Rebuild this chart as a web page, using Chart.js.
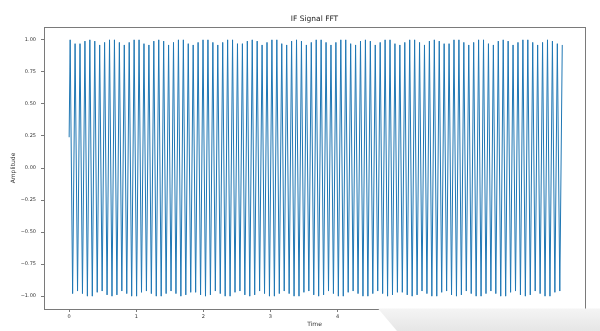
<!DOCTYPE html>
<html>
<head>
<meta charset="utf-8">
<title>IF Signal FFT</title>
<script src="https://cdn.jsdelivr.net/npm/chart.js@4.4.1/dist/chart.umd.min.js"></script>
<style>
  html, body { margin: 0; padding: 0; background: #fff; }
  canvas { display: block; }
</style>
</head>
<body>
<canvas id="ifChart" width="600" height="331"></canvas>
<script>
// signal: one value at t=0, then alternating crest / trough
const startAmplitude = 0.24;
const firstPeakTime = 0.015;
const halfPeriod = 0.03668; // time between a crest and the next trough

const peaks = [
  1.00, 0.97, 0.97, 0.99, 1.00, 0.99, 0.96, 0.98, 1.00, 1.00, 0.98, 0.96, 0.98, 1.00, 1.00, 0.97, 0.96, 0.99, 1.00, 0.99,
  0.96, 0.98, 1.00, 1.00, 0.97, 0.96, 0.98, 1.00, 1.00, 0.98, 0.96, 0.98, 1.00, 1.00, 0.97, 0.97, 0.99, 1.00, 0.99, 0.96,
  0.98, 1.00, 1.00, 0.97, 0.96, 0.99, 1.00, 0.99, 0.96, 0.98, 1.00, 1.00, 0.98, 0.96, 0.98, 1.00, 1.00, 0.97, 0.96, 0.99,
  1.00, 0.99, 0.96, 0.98, 1.00, 1.00, 0.97, 0.96, 0.98, 1.00, 1.00, 0.98, 0.96, 0.99, 1.00, 0.99, 0.97, 0.97, 1.00, 1.00,
  0.98, 0.96, 0.98, 1.00, 1.00, 0.97, 0.96, 0.99, 1.00, 0.99, 0.96, 0.98, 1.00, 1.00, 0.98, 0.96, 0.98, 1.00, 0.99, 0.97, 0.96
];

const troughs = [
  -0.98, -0.96, -0.98, -1.00, -1.00, -0.97, -0.96, -0.99, -1.00, -0.99, -0.96, -0.98, -1.00, -1.00, -0.97, -0.96, -0.98, -1.00, -1.00, -0.98,
  -0.96, -0.98, -1.00, -0.99, -0.97, -0.97, -0.99, -1.00, -0.99, -0.96, -0.98, -1.00, -1.00, -0.97, -0.96, -0.99, -1.00, -0.99, -0.96, -0.98,
  -1.00, -1.00, -0.98, -0.96, -0.98, -1.00, -1.00, -0.97, -0.96, -0.99, -1.00, -0.99, -0.96, -0.98, -1.00, -1.00, -0.97, -0.96, -0.98, -1.00,
  -1.00, -0.98, -0.96, -0.98, -1.00, -0.99, -0.97, -0.97, -0.99, -1.00, -0.99, -0.96, -0.98, -1.00, -1.00, -0.97, -0.96, -0.99, -1.00, -0.99,
  -0.96, -0.98, -1.00, -1.00, -0.98, -0.96, -0.98, -1.00, -1.00, -0.97, -0.96, -0.99, -1.00, -0.99, -0.96, -0.98, -1.00, -1.00, -0.97, -0.96
];

const xTicks = [0, 1, 2, 3, 4, 5, 6, 7];
const yTicks = [-1.00, -0.75, -0.50, -0.25, 0.00, 0.25, 0.50, 0.75, 1.00];

// interleave crests and troughs on the sampling grid
const signal = [{ x: 0, y: startAmplitude }];
for (let i = 0; i < peaks.length + troughs.length; i++) {
  const amp = i % 2 === 0 ? peaks[i / 2] : troughs[(i - 1) / 2];
  signal.push({ x: firstPeakTime + i * halfPeriod, y: amp });
}

const axisColor = "#7a7a7a";
const textColor = "#333";

// matplotlib-like box around the axes + the grey shading at bottom right of the photo
const framePlugin = {
  id: "frame",
  afterDraw(chart) {
    const { ctx, chartArea: a } = chart;
    ctx.save();
    ctx.strokeStyle = axisColor;
    ctx.lineWidth = 1;
    ctx.strokeRect(Math.round(a.left) + 0.5, Math.round(a.top) + 0.5,
      Math.round(a.right - a.left), Math.round(a.bottom - a.top));

    const g = ctx.createLinearGradient(0, a.bottom, 0, chart.height);
    g.addColorStop(0, "#f4f4f4");
    g.addColorStop(1, "#e6e6e6");
    ctx.fillStyle = g;
    ctx.beginPath();
    ctx.moveTo(378, a.bottom - 0.5);
    ctx.lineTo(chart.width, a.bottom - 0.5);
    ctx.lineTo(chart.width, chart.height);
    ctx.lineTo(397, chart.height);
    ctx.closePath();
    ctx.fill();
    ctx.restore();
  }
};

new Chart(document.getElementById("ifChart").getContext("2d"), {
  type: "line",
  data: {
    datasets: [{
      label: "IF signal",
      data: signal,
      borderColor: "#1f77b4",
      borderWidth: 1,
      pointRadius: 0,
      tension: 0,
      fill: false
    }]
  },
  options: {
    responsive: false,
    animation: false,
    layout: { padding: { left: 0, right: 15, top: 0, bottom: 0 } },
    plugins: {
      legend: { display: false },
      tooltip: { enabled: false },
      title: {
        display: true,
        text: "IF Signal FFT",
        fullSize: false,
        color: "#222",
        font: { family: "DejaVu Sans", size: 7.5, weight: "normal", lineHeight: 1.2 },
        padding: { top: 14.5, bottom: 3.5 }
      }
    },
    scales: {
      x: {
        type: "linear",
        min: -0.375,
        max: 7.69,
        afterBuildTicks: (s) => { s.ticks = xTicks.map(v => ({ value: v })); },
        afterFit: (s) => { s.height = 22; },
        border: { display: false },
        grid: { display: true, drawOnChartArea: false, drawTicks: true, tickLength: 3, color: axisColor },
        ticks: {
          color: textColor,
          padding: 2,
          maxRotation: 0,
          font: { family: "DejaVu Sans", size: 5 },
          callback: (v) => String(v)
        },
        title: {
          display: true,
          text: "Time",
          color: textColor,
          font: { family: "DejaVu Sans", size: 6, lineHeight: 1.2 },
          padding: { top: 0, bottom: 2.5 }
        }
      },
      y: {
        type: "linear",
        min: -1.1,
        max: 1.1,
        afterBuildTicks: (s) => { s.ticks = yTicks.map(v => ({ value: v })); },
        afterFit: (s) => { s.width = 44; },
        border: { display: false },
        grid: { display: true, drawOnChartArea: false, drawTicks: true, tickLength: 3, color: axisColor },
        ticks: {
          color: textColor,
          padding: 5,
          font: { family: "DejaVu Sans", size: 5 },
          callback: (v) => (v < 0 ? "\u2212" : "") + Math.abs(v).toFixed(2)
        },
        title: {
          display: true,
          text: "Amplitude",
          color: textColor,
          font: { family: "DejaVu Sans", size: 6, lineHeight: 1.2 },
          padding: { top: 10, bottom: 0 }
        }
      }
    }
  },
  plugins: [framePlugin]
});
</script>
</body>
</html>
